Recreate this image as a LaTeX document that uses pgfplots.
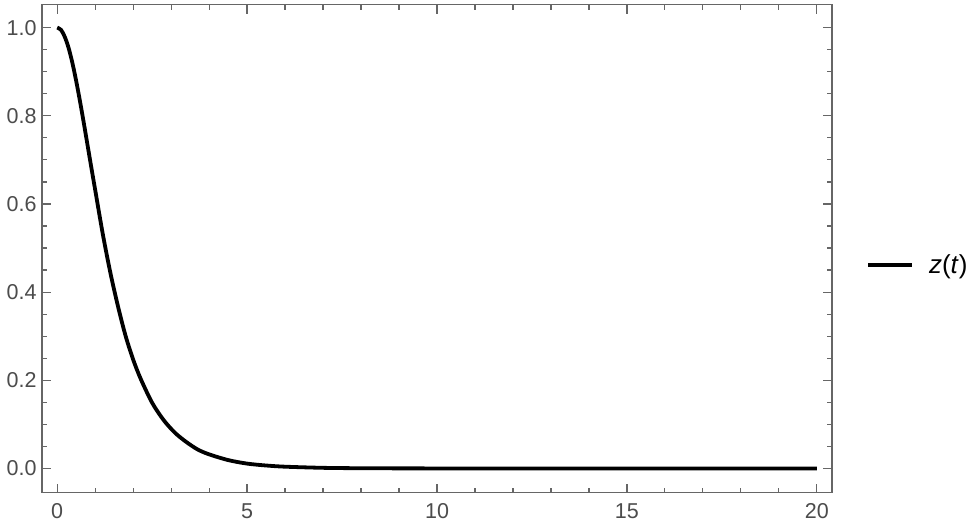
\documentclass[border=0pt]{standalone}
\usepackage{pgfplots}
\pgfplotsset{compat=1.18}
\usepackage{fontspec}
\setmainfont{Liberation Sans}
\definecolor{framegray}{gray}{0.4}
\definecolor{labelgray}{gray}{0.3}

\begin{document}
\begin{tikzpicture}
\begin{axis}[
  name=ax,
  scale only axis, width=790bp, height=488bp,
  xmin=-0.4, xmax=20.4, ymin=-0.055, ymax=1.052,
  xtick={0,5,10,15,20}, ytick={0,0.2,0.4,0.6,0.8,1},
  minor x tick num=4, minor y tick num=3,
  tick align=inside,
  axis line style={framegray, line width=1.4bp},
  every tick/.style={framegray, line width=1.2bp},
  major tick length=9bp, minor tick length=5bp,
  /pgf/number format/assume math mode=true,
  tick label style={font=\fontsize{21.5bp}{25bp}\selectfont, text=labelgray},
  yticklabel style={/pgf/number format/fixed, /pgf/number format/fixed zerofill,
    /pgf/number format/precision=1, xshift=-2bp},
  xticklabel style={yshift=-7bp},
  legend style={draw=none, fill=none, inner sep=0pt, at={(1,0.467)}, anchor=west,
    xshift=34bp, font=\fontsize{26bp}{30bp}\selectfont, nodes={inner sep=0pt}},
  legend image code/.code={\draw[line width=3.8bp] (0bp,0bp) -- (44bp,0bp);},
]
\addplot[black, line width=3.8bp, smooth] coordinates {
(0, 1.000) (0.1, 0.995) (0.2, 0.979) (0.3, 0.954) (0.4, 0.920)
(0.5, 0.879) (0.6, 0.833) (0.7, 0.784) (0.8, 0.733) (0.9, 0.682)
(1.0, 0.632) (1.2, 0.532) (1.4, 0.444) (1.6, 0.368) (1.8, 0.301)
(2.0, 0.247) (2.2, 0.203) (2.5, 0.149) (2.8, 0.110) (3.1, 0.081)
(3.4, 0.060) (3.7, 0.043) (4.0, 0.032) (4.5, 0.019) (5.0, 0.011)
(5.5, 0.0067) (6.0, 0.004) (7.0, 0.0014) (8.0, 0.0005) (9.0, 0.0002)
(10, 0.0001) (12, 0) (15, 0) (20, 0)
};
\addlegendentry{\hspace{15bp}\textit{z}(\textit{t})}
\end{axis}
\pgfresetboundingbox
\useasboundingbox ([xshift=-42bp,yshift=-34bp]ax.south west) rectangle ([xshift=144bp,yshift=4.7bp]ax.north east);
\end{tikzpicture}
\end{document}
